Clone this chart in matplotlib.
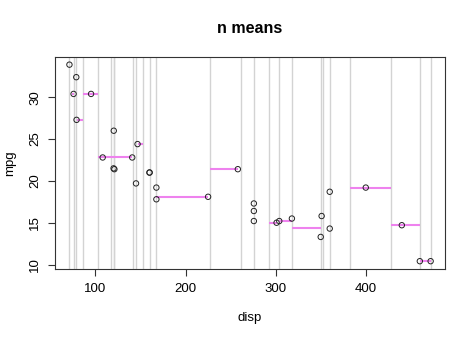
import matplotlib
matplotlib.use("Agg")
import matplotlib.pyplot as plt

# mtcars: displacement and mpg
disp = [160, 160, 108, 258, 360, 225, 360, 146.7, 140.8, 167.6, 167.6,
        275.8, 275.8, 275.8, 472, 460, 440, 78.7, 75.7, 71.1, 120.1, 318,
        304, 350, 400, 79, 120.3, 95.1, 351, 145, 301, 121]
mpg = [21.0, 21.0, 22.8, 21.4, 18.7, 18.1, 14.3, 24.4, 22.8, 19.2, 17.8,
       16.4, 17.3, 15.2, 10.4, 10.4, 14.7, 32.4, 30.4, 33.9, 21.5, 15.5,
       15.2, 13.3, 19.2, 27.3, 26.0, 30.4, 15.8, 19.7, 15.0, 21.4]

# break positions (grey verticals)
breaks = [71.1, 75.7, 78.7, 85.9, 102.6, 116.7, 120.3, 121, 142.2, 145,
          152.6, 160, 167.6, 227.5, 262, 275.8, 292.6, 304, 318, 350, 353,
          360, 382.2, 428.5, 460, 472]

# mean segments: start, end, level
seg_x0 = [73.4, 79, 85.9, 102.6, 146.7, 167.6, 227.5, 292.6, 304, 318, 382.2, 428.5, 460]
seg_x1 = [75.7, 85.9, 102.6, 140.8, 152.6, 225, 258, 301, 318, 350, 428.5, 460, 472]
seg_y = [30.4, 27.3, 30.4, 22.8, 24.4, 18.1, 21.4, 15.0, 15.2, 14.4, 19.2, 14.7, 10.4]


def main():
  plt.rcParams['font.family'] = ['Liberation Sans', 'DejaVu Sans']
  fig = plt.figure(figsize=(4.74, 3.38), dpi=100)
  ax = fig.add_axes([0.116, 0.204, 0.823, 0.628])

  for b in breaks:
    ax.axvline(b, color="#d3d3d3", lw=1, zorder=1)
  ax.hlines(seg_y, seg_x0, seg_x1, color="violet", lw=1.5, zorder=2)
  ax.scatter(disp, mpg, s=15, facecolors="none", edgecolors="#222222",
             linewidths=0.7, zorder=3)

  # R style 4% padding
  xr = max(disp) - min(disp)
  yr = max(mpg) - min(mpg)
  ax.set_xlim(min(disp) - 0.04 * xr, max(disp) + 0.04 * xr)
  ax.set_ylim(min(mpg) - 0.04 * yr, max(mpg) + 0.04 * yr)

  ax.set_xticks([100, 200, 300, 400])
  ax.set_yticks([10, 15, 20, 25, 30])
  ax.tick_params(labelsize=9.5, length=5, width=0.8, color="#333333", pad=5)
  for lab in ax.get_yticklabels():
    lab.set_rotation(90)
    lab.set_va("center")
  for sp in ax.spines.values():
    sp.set_color("#333333")
    sp.set_linewidth(0.8)

  ax.set_xlabel("disp", fontsize=9.5, labelpad=12)
  ax.set_ylabel("mpg", fontsize=9.5, labelpad=9)
  ax.set_title("n means", fontsize=11.5, fontweight="bold", pad=17)

  fig.savefig("out.png", dpi=100)


if __name__ == '__main__':
  main()
